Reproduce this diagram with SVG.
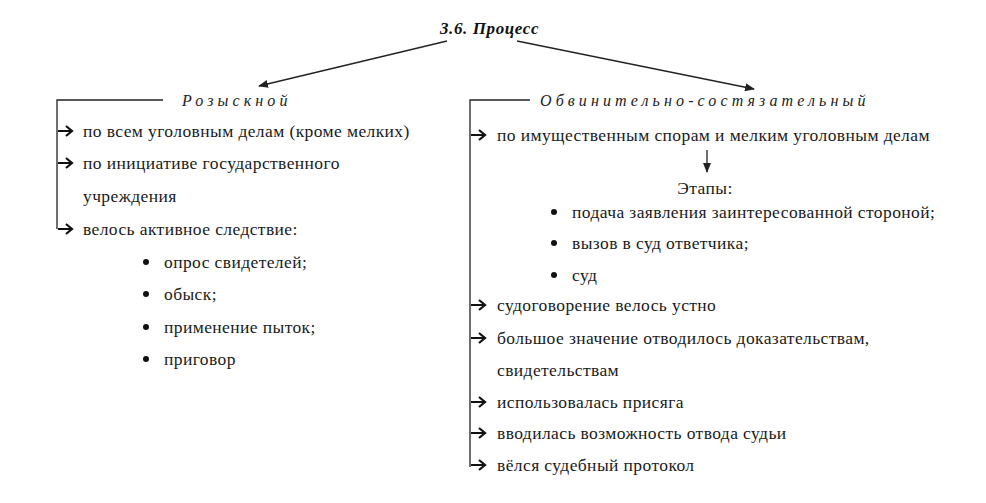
<svg xmlns="http://www.w3.org/2000/svg" xmlns:xlink="http://www.w3.org/1999/xlink" width="986" height="503" viewBox="0 0 986 503">
<style>
text{font-family:'Liberation Serif','Times New Roman',serif}
.t{font-size:17.5px;letter-spacing:0.4px;fill:#1a1a1a}
.h{font-size:16px;font-style:italic;letter-spacing:4.1px;fill:#222}
.ttl{font-size:17px;font-style:italic;font-weight:bold;letter-spacing:0.6px;fill:#111}
.ln{stroke:#222;stroke-width:1.3;fill:none}
.con{stroke:#222;stroke-width:1.3;fill:none}
.b{fill:#111}
</style>
<defs>
<marker id="ah" markerWidth="10" markerHeight="8" refX="9" refY="4" orient="auto" markerUnits="userSpaceOnUse">
<path d="M0,0 L10,4 L0,8 Z" fill="#222"/>
</marker>
<g id="ar"><path d="M1,0 H15 M9,-5 L15,0 L9,5" stroke="#111" stroke-width="2.2" fill="none"/></g>
</defs>
<rect width="986" height="503" fill="#fff"/>

<g id="connectors">
<line class="con" x1="447" y1="41" x2="259" y2="86" marker-end="url(#ah)"/>
<line class="con" x1="517" y1="41" x2="754" y2="89" marker-end="url(#ah)"/>
<line class="con" x1="707" y1="150" x2="707" y2="172" marker-end="url(#ah)"/>
</g>

<g id="title">
<text class="ttl" x="440" y="34">3.6. Процесс</text>
</g>

<g id="left">
<path class="ln" d="M163,100 H57 V229"/>
<text class="h" x="182" y="106">Розыскной</text>
<use xlink:href="#ar" x="57" y="131"/>
<text class="t" x="83" y="137">по всем уголовным делам (кроме мелких)</text>
<use xlink:href="#ar" x="57" y="163"/>
<text class="t" x="83" y="169">по инициативе государственного</text>
<text class="t" x="83" y="202">учреждения</text>
<use xlink:href="#ar" x="57" y="229"/>
<text class="t" x="83" y="235">велось активное следствие:</text>
<circle class="b" cx="146" cy="262" r="3"/>
<text class="t" x="164" y="268">опрос свидетелей;</text>
<circle class="b" cx="146" cy="294" r="3"/>
<text class="t" x="164" y="300">обыск;</text>
<circle class="b" cx="146" cy="327" r="3"/>
<text class="t" x="164" y="333">применение пыток;</text>
<circle class="b" cx="146" cy="359" r="3"/>
<text class="t" x="164" y="365">приговор</text>
</g>

<g id="right">
<path class="ln" d="M530,100 H470 V467"/>
<text class="h" x="540" y="106">Обвинительно-состязательный</text>
<use xlink:href="#ar" x="470" y="135"/>
<text class="t" x="497" y="141">по имущественным спорам и мелким уголовным делам</text>
<text class="t" x="705" y="194" text-anchor="middle">Этапы:</text>
<circle class="b" cx="554" cy="212" r="3"/>
<text class="t" x="572" y="218">подача заявления заинтересованной стороной;</text>
<circle class="b" cx="554" cy="243" r="3"/>
<text class="t" x="572" y="249">вызов в суд ответчика;</text>
<circle class="b" cx="554" cy="275" r="3"/>
<text class="t" x="572" y="281">суд</text>
<use xlink:href="#ar" x="470" y="305"/>
<text class="t" x="497" y="311">судоговорение велось устно</text>
<use xlink:href="#ar" x="470" y="338"/>
<text class="t" x="497" y="344">большое значение отводилось доказательствам,</text>
<text class="t" x="497" y="376">свидетельствам</text>
<use xlink:href="#ar" x="470" y="402"/>
<text class="t" x="497" y="408">использовалась присяга</text>
<use xlink:href="#ar" x="470" y="433"/>
<text class="t" x="497" y="439">вводилась возможность отвода судьи</text>
<use xlink:href="#ar" x="470" y="465"/>
<text class="t" x="497" y="471">вёлся судебный протокол</text>
</g>
</svg>
